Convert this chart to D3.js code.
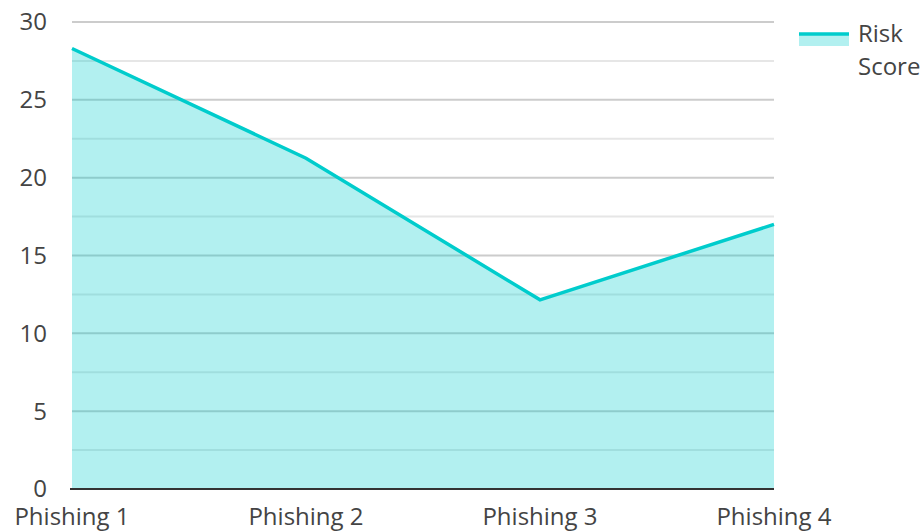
<!DOCTYPE html>
<html><head><meta charset="utf-8">
<script src="https://cdn.jsdelivr.net/npm/d3@7"></script>
<style>
html,body{margin:0;padding:0;background:#fff;overflow:hidden;}
svg text{font-family:"Open Sans","Noto Sans",sans-serif;fill:#444;}
</style></head>
<body>
<svg id="chart" width="923" height="531"></svg>
<script>
const categories = ["Phishing 1", "Phishing 2", "Phishing 3", "Phishing 4"];
const riskScore = [28.3, 21.25, 12.15, 17.0];
const yTicks = [0, 5, 10, 15, 20, 25, 30];
const yMinorTicks = [2.5, 7.5, 12.5, 17.5, 22.5, 27.5];
const seriesName = ["Risk", "Score"];

const svg = d3.select("#chart");
const m = {left: 72, right: 774, top: 22, bottom: 489};
const lineColor = "#00cccc";

const x = d3.scalePoint().domain(categories).range([m.left, m.right]).padding(0);
const y = d3.scaleLinear().domain([0, 30]).range([m.bottom, m.top]);

// grid
svg.append("g").selectAll("line.minor").data(yMinorTicks).join("line")
  .attr("x1", m.left).attr("x2", m.right)
  .attr("y1", d => y(d)).attr("y2", d => y(d))
  .attr("stroke", "#e6e6e6").attr("stroke-width", 2);
svg.append("g").selectAll("line.major").data(yTicks.filter(d => d > 0)).join("line")
  .attr("x1", m.left).attr("x2", m.right)
  .attr("y1", d => y(d)).attr("y2", d => y(d))
  .attr("stroke", "#cccccc").attr("stroke-width", 2);

// area
const data = categories.map((c, i) => ({c, v: riskScore[i]}));
svg.append("path").datum(data)
  .attr("d", d3.area().x(d => x(d.c)).y0(y(0)).y1(d => y(d.v)))
  .attr("fill", lineColor).attr("fill-opacity", 0.3);
svg.append("path").datum(data)
  .attr("d", d3.line().x(d => x(d.c)).y(d => y(d.v)))
  .attr("fill", "none").attr("stroke", lineColor).attr("stroke-width", 3.5)
  .attr("stroke-linejoin", "miter");

// x axis line
svg.append("line").attr("x1", m.left - 2).attr("x2", m.right)
  .attr("y1", y(0)).attr("y2", y(0)).attr("stroke", "#333").attr("stroke-width", 2);

// y labels
svg.append("g").selectAll("text").data(yTicks).join("text")
  .attr("x", 47).attr("y", d => y(d)).attr("dy", "0.35em")
  .attr("text-anchor", "end").attr("font-size", 24).text(d => d);

// x labels
svg.append("g").selectAll("text").data(categories).join("text")
  .attr("x", d => x(d)).attr("y", 525)
  .attr("text-anchor", "middle").attr("font-size", 24).text(d => d);

// legend
const lg = svg.append("g");
lg.append("rect").attr("x", 799).attr("y", 34).attr("width", 50).attr("height", 12)
  .attr("fill", lineColor).attr("fill-opacity", 0.3);
lg.append("line").attr("x1", 799).attr("x2", 849).attr("y1", 34).attr("y2", 34)
  .attr("stroke", lineColor).attr("stroke-width", 3.5);
lg.selectAll("text").data(seriesName).join("text")
  .attr("x", 858).attr("y", (d, i) => 42 + i * 33)
  .attr("font-size", 24).text(d => d);
</script>
</body></html>
